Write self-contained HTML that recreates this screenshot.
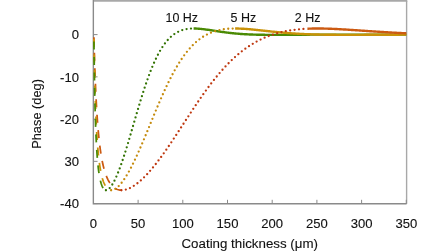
<!DOCTYPE html>
<html><head><meta charset="utf-8"><style>html,body{margin:0;padding:0;background:#fff;width:448px;height:252px;overflow:hidden}svg{display:block}</style></head>
<body><svg width="448" height="252" viewBox="0 0 448 252"><rect width="448" height="252" fill="#fff"/><path d="M93.35,0.95 H407.3" fill="none" stroke="#a8a8a8" stroke-width="1.7"/><path d="M406.6,0.95 V203.8" fill="none" stroke="#a8a8a8" stroke-width="1.4"/><path d="M93.35,-0.050000000000000044 V203.8 H406.6" fill="none" stroke="#8a8a8a" stroke-width="1.4"/><path d="M93.35,34.60 h4.2 M93.35,76.85 h4.2 M93.35,119.10 h4.2 M93.35,161.35 h4.2 M93.35,203.60 h4.2 M138.10,203.8 v-4 M182.80,203.8 v-4 M227.50,203.8 v-4 M272.20,203.8 v-4 M316.90,203.8 v-4 M361.60,203.8 v-4 M406.30,203.8 v-4" fill="none" stroke="#8a8a8a" stroke-width="1"/><path d="M193.61,28.51 L194.41,28.51 L195.21,28.53 L196.01,28.56 L196.81,28.59 L197.61,28.64 L198.41,28.70 L199.21,28.76 L200.01,28.83 L200.81,28.91 L201.61,28.99 L202.41,29.08 L203.20,29.17 L204.00,29.27 L204.79,29.37 L205.59,29.48 L206.38,29.59 L207.18,29.70 L207.98,29.81 L208.77,29.93 L209.57,30.05 L210.36,30.17 L211.15,30.29 L211.94,30.41 L212.73,30.53 L213.52,30.65 L214.31,30.77 L215.10,30.89 L215.90,31.01 L216.69,31.13 L217.48,31.25 L218.27,31.37 L219.07,31.49 L219.86,31.61 L220.66,31.72 L221.45,31.84 L222.25,31.95 L223.04,32.06 L223.84,32.17 L224.63,32.28 L225.43,32.38 L226.23,32.48 L227.02,32.58 L227.82,32.68 L228.61,32.78 L229.41,32.87 L230.20,32.96 L231.00,33.05 L231.80,33.14 L232.59,33.22 L233.39,33.30 L234.19,33.38 L234.99,33.46 L235.79,33.53 L236.59,33.60 L237.39,33.67 L238.19,33.74 L238.99,33.80 L239.79,33.87 L240.59,33.93 L241.39,33.98 L242.19,34.04 L242.99,34.09 L243.79,34.14 L244.59,34.19 L245.39,34.24 L246.19,34.28 L246.99,34.32 L247.79,34.36 L248.59,34.40 L249.39,34.44 L250.19,34.47 L250.99,34.50 L251.79,34.53 L252.59,34.56 L253.39,34.59 L254.19,34.61 L254.99,34.64 L255.80,34.66 L256.60,34.68 L257.40,34.70 L258.20,34.72 L259.00,34.74 L259.80,34.75 L260.60,34.77 L261.40,34.78 L262.20,34.79 L263.00,34.80 L263.80,34.81 L264.60,34.82 L265.40,34.83 L266.20,34.83 L267.00,34.84 L267.80,34.85 L268.60,34.85 L269.40,34.85 L270.20,34.86 L271.00,34.86 L271.80,34.86 L272.60,34.86 L273.40,34.86 L274.20,34.86 L275.00,34.86 L275.80,34.86 L276.60,34.86 L277.40,34.86 L278.20,34.86 L279.00,34.85 L279.80,34.85 L280.60,34.85 L281.40,34.84 L282.20,34.84 L283.00,34.84 L283.80,34.83 L284.60,34.83 L285.40,34.82 L286.20,34.82 L287.00,34.81 L287.80,34.81 L288.60,34.80 L289.40,34.80 L290.20,34.79 L291.00,34.79 L291.80,34.78 L292.60,34.78 L293.40,34.77 L294.20,34.77 L295.00,34.76 L295.80,34.76 L296.60,34.75 L297.40,34.75 L298.20,34.74 L299.00,34.74 L299.80,34.73 L300.60,34.73 L301.40,34.72 L302.20,34.72 L303.00,34.71 L303.80,34.71 L304.60,34.70 L305.40,34.70 L306.20,34.69 L307.00,34.69 L307.80,34.68 L308.60,34.68 L309.40,34.68 L310.20,34.67 L311.00,34.67 L311.80,34.66 L312.60,34.66 L313.40,34.66 L314.20,34.65 L315.00,34.65 L315.80,34.65 L316.60,34.64 L317.41,34.64 L318.21,34.64 L319.01,34.63 L319.81,34.63 L320.61,34.63 L321.41,34.63 L322.21,34.62 L323.01,34.62 L323.81,34.62 L324.61,34.62 L325.41,34.62 L326.21,34.61 L327.01,34.61 L327.81,34.61 L328.61,34.61 L329.41,34.61 L330.21,34.61 L331.01,34.60 L331.81,34.60 L332.61,34.60 L333.41,34.60 L334.21,34.60 L335.01,34.60 L335.81,34.60 L336.61,34.60 L337.41,34.60 L338.21,34.60 L339.01,34.59 L339.81,34.59 L340.61,34.59 L341.41,34.59 L342.21,34.59 L343.01,34.59 L343.81,34.59 L344.61,34.59 L345.41,34.59 L346.21,34.59 L347.01,34.59 L347.81,34.59 L348.61,34.59 L349.41,34.59 L350.21,34.59 L351.01,34.59 L351.81,34.59 L352.61,34.59 L353.41,34.59 L354.21,34.59 L355.01,34.59 L355.81,34.59 L356.61,34.59 L357.41,34.59 L358.21,34.59 L359.01,34.59 L359.81,34.59 L360.61,34.59 L361.41,34.59 L362.21,34.59 L363.01,34.59 L363.81,34.59 L364.61,34.59 L365.41,34.59 L366.21,34.59 L367.01,34.59 L367.81,34.59 L368.61,34.59 L369.41,34.59 L370.21,34.59 L371.01,34.59 L371.81,34.59 L372.61,34.59 L373.41,34.59 L374.21,34.59 L375.01,34.59 L375.81,34.59 L376.61,34.59 L377.41,34.59 L378.21,34.59 L379.02,34.59 L379.82,34.59 L380.62,34.59 L381.42,34.59 L382.22,34.59 L383.02,34.60 L383.82,34.60 L384.62,34.60 L385.42,34.60 L386.22,34.60 L387.02,34.60 L387.82,34.60 L388.62,34.60 L389.42,34.60 L390.22,34.60 L391.02,34.60 L391.82,34.60 L392.62,34.60 L393.42,34.60 L394.22,34.60 L395.02,34.60 L395.82,34.60 L396.62,34.60 L397.42,34.60 L398.22,34.60 L399.02,34.60 L399.82,34.60 L400.62,34.60 L401.42,34.60 L402.22,34.60 L403.02,34.60 L403.82,34.60 L404.62,34.60 L405.42,34.60 L406.22,34.60 L406.30,34.60" fill="none" stroke="#4a8a04" stroke-width="2.4" stroke-linejoin="round"/><path d="M235.10,28.51 L235.90,28.51 L236.70,28.52 L237.50,28.53 L238.30,28.55 L239.10,28.58 L239.90,28.60 L240.70,28.64 L241.50,28.68 L242.30,28.72 L243.10,28.76 L243.90,28.81 L244.70,28.86 L245.50,28.92 L246.30,28.98 L247.10,29.04 L247.90,29.11 L248.70,29.17 L249.50,29.24 L250.30,29.31 L251.10,29.39 L251.90,29.46 L252.70,29.54 L253.50,29.62 L254.30,29.70 L255.10,29.78 L255.90,29.86 L256.70,29.94 L257.50,30.03 L258.29,30.11 L259.09,30.20 L259.89,30.28 L260.68,30.37 L261.48,30.45 L262.27,30.54 L263.07,30.63 L263.86,30.71 L264.66,30.80 L265.45,30.89 L266.25,30.97 L267.05,31.06 L267.84,31.14 L268.64,31.23 L269.43,31.31 L270.23,31.40 L271.02,31.48 L271.82,31.57 L272.62,31.65 L273.42,31.73 L274.22,31.81 L275.03,31.89 L275.83,31.97 L276.63,32.05 L277.43,32.13 L278.23,32.20 L279.03,32.28 L279.83,32.35 L280.63,32.43 L281.43,32.50 L282.23,32.57 L283.03,32.64 L283.83,32.71 L284.63,32.78 L285.43,32.84 L286.23,32.91 L287.03,32.97 L287.83,33.04 L288.63,33.10 L289.43,33.16 L290.23,33.22 L291.03,33.28 L291.83,33.33 L292.63,33.39 L293.43,33.44 L294.23,33.50 L295.03,33.55 L295.83,33.60 L296.63,33.65 L297.43,33.70 L298.23,33.74 L299.03,33.79 L299.83,33.83 L300.63,33.88 L301.43,33.92 L302.23,33.96 L303.03,34.00 L303.83,34.04 L304.63,34.08 L305.43,34.11 L306.23,34.15 L307.03,34.18 L307.83,34.21 L308.63,34.25 L309.43,34.28 L310.23,34.31 L311.03,34.34 L311.83,34.36 L312.63,34.39 L313.43,34.42 L314.23,34.44 L315.03,34.47 L315.83,34.49 L316.63,34.51 L317.43,34.53 L318.23,34.55 L319.03,34.57 L319.83,34.59 L320.63,34.61 L321.43,34.63 L322.23,34.64 L323.03,34.66 L323.83,34.67 L324.63,34.69 L325.43,34.70 L326.23,34.72 L327.03,34.73 L327.83,34.74 L328.63,34.75 L329.43,34.76 L330.23,34.77 L331.03,34.78 L331.83,34.79 L332.63,34.80 L333.43,34.80 L334.23,34.81 L335.03,34.82 L335.83,34.82 L336.64,34.83 L337.44,34.83 L338.24,34.84 L339.04,34.84 L339.84,34.85 L340.64,34.85 L341.44,34.85 L342.24,34.85 L343.04,34.86 L343.84,34.86 L344.64,34.86 L345.44,34.86 L346.24,34.86 L347.04,34.86 L347.84,34.86 L348.64,34.86 L349.44,34.86 L350.24,34.86 L351.04,34.86 L351.84,34.86 L352.64,34.86 L353.44,34.86 L354.24,34.86 L355.04,34.86 L355.84,34.85 L356.64,34.85 L357.44,34.85 L358.24,34.85 L359.04,34.84 L359.84,34.84 L360.64,34.84 L361.44,34.84 L362.24,34.83 L363.04,34.83 L363.84,34.83 L364.64,34.82 L365.44,34.82 L366.24,34.82 L367.04,34.81 L367.84,34.81 L368.64,34.81 L369.44,34.80 L370.24,34.80 L371.04,34.80 L371.84,34.79 L372.64,34.79 L373.44,34.79 L374.24,34.78 L375.04,34.78 L375.84,34.77 L376.64,34.77 L377.44,34.77 L378.24,34.76 L379.04,34.76 L379.84,34.76 L380.64,34.75 L381.44,34.75 L382.24,34.74 L383.04,34.74 L383.84,34.74 L384.64,34.73 L385.44,34.73 L386.24,34.73 L387.04,34.72 L387.84,34.72 L388.64,34.72 L389.44,34.71 L390.24,34.71 L391.04,34.71 L391.84,34.70 L392.64,34.70 L393.44,34.70 L394.24,34.69 L395.04,34.69 L395.84,34.69 L396.64,34.68 L397.44,34.68 L398.25,34.68 L399.05,34.68 L399.85,34.67 L400.65,34.67 L401.45,34.67 L402.25,34.66 L403.05,34.66 L403.85,34.66 L404.65,34.66 L405.45,34.65 L406.25,34.65 L406.30,34.65" fill="none" stroke="#c99208" stroke-width="2.4" stroke-linejoin="round"/><path d="M307.42,28.72 L308.22,28.69 L309.02,28.65 L309.82,28.63 L310.62,28.60 L311.42,28.58 L312.22,28.56 L313.02,28.55 L313.82,28.53 L314.62,28.52 L315.42,28.51 L316.23,28.51 L317.03,28.51 L317.83,28.51 L318.63,28.51 L319.43,28.51 L320.23,28.52 L321.03,28.53 L321.83,28.54 L322.63,28.55 L323.43,28.57 L324.23,28.59 L325.03,28.60 L325.83,28.62 L326.63,28.65 L327.43,28.67 L328.23,28.70 L329.03,28.72 L329.83,28.75 L330.63,28.78 L331.43,28.81 L332.23,28.85 L333.03,28.88 L333.83,28.92 L334.63,28.95 L335.43,28.99 L336.23,29.03 L337.03,29.07 L337.83,29.11 L338.63,29.16 L339.43,29.20 L340.23,29.24 L341.03,29.29 L341.83,29.33 L342.63,29.38 L343.43,29.43 L344.23,29.47 L345.03,29.52 L345.83,29.57 L346.63,29.62 L347.43,29.67 L348.23,29.72 L349.03,29.78 L349.83,29.83 L350.63,29.88 L351.43,29.93 L352.23,29.98 L353.03,30.04 L353.83,30.09 L354.63,30.15 L355.43,30.20 L356.23,30.25 L357.03,30.31 L357.83,30.36 L358.63,30.42 L359.43,30.47 L360.23,30.53 L361.03,30.58 L361.83,30.64 L362.63,30.69 L363.43,30.75 L364.23,30.80 L365.03,30.86 L365.83,30.91 L366.63,30.97 L367.43,31.02 L368.23,31.08 L369.03,31.13 L369.83,31.19 L370.63,31.24 L371.43,31.29 L372.23,31.35 L373.03,31.40 L373.83,31.45 L374.63,31.51 L375.43,31.56 L376.23,31.61 L377.03,31.66 L377.84,31.72 L378.64,31.77 L379.44,31.82 L380.24,31.87 L381.04,31.92 L381.84,31.97 L382.64,32.02 L383.44,32.07 L384.24,32.12 L385.04,32.17 L385.84,32.22 L386.64,32.26 L387.44,32.31 L388.24,32.36 L389.04,32.40 L389.84,32.45 L390.64,32.50 L391.44,32.54 L392.24,32.59 L393.04,32.63 L393.84,32.67 L394.64,32.72 L395.44,32.76 L396.24,32.80 L397.04,32.85 L397.84,32.89 L398.64,32.93 L399.44,32.97 L400.24,33.01 L401.04,33.05 L401.84,33.09 L402.64,33.13 L403.44,33.16 L404.24,33.20 L405.04,33.24 L405.84,33.28 L406.30,33.30" fill="none" stroke="#cc5a12" stroke-width="2.4" stroke-linejoin="round"/><path d="M93.85,34.60 L93.87,35.50 L93.89,36.39 L93.92,37.27 L93.94,38.14 L93.96,39.01 L93.98,39.88 L94.01,40.73 L94.03,41.58 L94.05,42.43 L94.07,43.27 L94.10,44.10 L94.12,44.92 L94.14,45.74 L94.16,46.56 L94.19,47.36 L94.21,48.16 L94.23,49.12 L94.26,50.06 L94.29,51.00 L94.31,51.93 L94.34,52.85 L94.37,53.76 L94.40,54.67 L94.42,55.56 L94.45,56.45 L94.48,57.33 L94.50,58.21 L94.53,59.07 L94.56,59.93 L94.58,60.78 L94.61,61.63 L94.64,62.46 L94.66,63.29 L94.69,64.11 L94.72,64.93 L94.74,65.73 L94.77,66.53 L94.80,67.46 L94.83,68.37 L94.86,69.28 L94.90,70.18 L94.93,71.07 L94.96,71.95 L94.99,72.82 L95.02,73.68 L95.05,74.54 L95.08,75.38 L95.12,76.22 L95.15,77.05 L95.18,77.87 L95.21,78.68 L95.24,79.49 L95.28,80.40 L95.31,81.30 L95.35,82.19 L95.38,83.07 L95.42,83.94 L95.45,84.80 L95.49,85.65 L95.53,86.50 L95.56,87.33 L95.60,88.16 L95.63,88.97 L95.67,89.78 L95.71,90.68 L95.75,91.56 L95.79,92.44 L95.83,93.31 L95.87,94.16 L95.91,95.01 L95.95,95.85 L95.99,96.67 L96.03,97.49 L96.07,98.29 L96.12,99.18 L96.16,100.05 L96.21,100.92 L96.25,101.77 L96.30,102.61 L96.34,103.44 L96.38,104.26 L96.43,105.07 L96.47,105.87 L96.52,106.74 L96.57,107.60 L96.62,108.44 L96.67,109.27 L96.72,110.10 L96.77,110.91 L96.82,111.71 L96.87,112.57 L96.93,113.42 L96.98,114.26 L97.03,115.08 L97.09,115.89 L97.14,116.70 L97.20,117.55 L97.26,118.40 L97.31,119.23 L97.37,120.04 L97.43,120.85 L97.49,121.71 L97.56,122.55 L97.62,123.38 L97.68,124.19 L97.74,124.99 L97.81,125.84 L97.88,126.67 L97.94,127.49 L98.01,128.30 L98.08,129.14 L98.15,129.97 L98.23,130.79 L98.30,131.59 L98.37,132.43 L98.45,133.25 L98.53,134.06 L98.61,134.90 L98.69,135.73 L98.77,136.54 L98.85,137.38 L98.94,138.20 L99.02,139.01 L99.11,139.84 L99.20,140.66 L99.29,141.46 L99.38,142.29 L99.48,143.10 L99.58,143.93 L99.67,144.74 L99.77,145.53 L99.88,146.35 L99.98,147.15 L100.09,147.96 L100.19,148.76 L100.30,149.57 L100.42,150.37 L100.53,151.17 L100.65,151.99 L100.77,152.79 L100.90,153.60 L101.03,154.42 L101.16,155.22 L101.29,156.02 L101.43,156.83 L101.57,157.62 L101.71,158.42 L101.86,159.21 L102.01,160.01 L102.17,160.81 L102.33,161.61 L102.49,162.41 L102.66,163.21 L102.84,164.01 L103.02,164.80 L103.20,165.58 L103.39,166.36 L103.59,167.15 L103.79,167.93 L104.00,168.72 L104.21,169.50 L104.43,170.28 L104.66,171.05 L104.90,171.82 L105.15,172.59 L105.40,173.36 L105.66,174.13 L105.94,174.88 L106.22,175.63 L106.51,176.38 L106.82,177.13 L107.14,177.87 L107.47,178.60 L107.81,179.32 L108.18,180.04 L108.55,180.75 L108.95,181.45 L109.36,182.14 L109.79,182.81 L110.24,183.48 L110.71,184.13 L111.21,184.76 L111.73,185.38 L112.27,185.97 L112.84,186.53 L113.44,187.07 L114.07,187.58 L114.72,188.05 L115.40,188.48 L116.10,188.87 L116.82,189.22 L117.57,189.51 L118.33,189.76 L119.11,189.96 L119.90,190.10 L120.69,190.19 L121.49,190.24 L121.87,190.25" fill="none" stroke="#cc5a12" stroke-width="1.75" stroke-dasharray="8 7.5" stroke-dashoffset="12.8"/><path d="M93.85,34.60 L93.86,35.45 L93.88,36.29 L93.89,37.13 L93.90,37.96 L93.92,38.79 L93.93,39.61 L93.94,40.43 L93.96,41.24 L93.97,42.04 L93.99,43.10 L94.01,44.15 L94.02,45.20 L94.04,46.23 L94.06,47.25 L94.08,48.27 L94.10,49.27 L94.11,50.27 L94.13,51.25 L94.15,52.23 L94.17,53.20 L94.19,54.15 L94.20,55.10 L94.22,56.05 L94.24,56.98 L94.26,57.90 L94.27,58.82 L94.29,59.72 L94.31,60.62 L94.33,61.51 L94.35,62.39 L94.36,63.27 L94.38,64.13 L94.40,64.99 L94.42,65.84 L94.44,66.68 L94.45,67.52 L94.47,68.35 L94.49,69.17 L94.51,69.98 L94.52,70.78 L94.55,71.78 L94.57,72.76 L94.59,73.74 L94.61,74.70 L94.64,75.65 L94.66,76.60 L94.68,77.53 L94.70,78.45 L94.73,79.36 L94.75,80.26 L94.77,81.15 L94.79,82.04 L94.82,82.91 L94.84,83.77 L94.86,84.62 L94.88,85.47 L94.90,86.30 L94.93,87.13 L94.95,87.95 L94.97,88.76 L94.99,89.56 L95.02,90.50 L95.05,91.44 L95.07,92.37 L95.10,93.28 L95.13,94.18 L95.16,95.07 L95.18,95.95 L95.21,96.82 L95.24,97.68 L95.26,98.53 L95.29,99.37 L95.32,100.19 L95.34,101.01 L95.37,101.82 L95.40,102.75 L95.43,103.67 L95.46,104.57 L95.49,105.46 L95.53,106.34 L95.56,107.21 L95.59,108.06 L95.62,108.91 L95.65,109.74 L95.68,110.56 L95.71,111.37 L95.75,112.17 L95.78,113.07 L95.82,113.96 L95.85,114.83 L95.89,115.69 L95.92,116.54 L95.96,117.38 L96.00,118.20 L96.03,119.01 L96.07,119.81 L96.11,120.70 L96.15,121.57 L96.19,122.42 L96.23,123.27 L96.27,124.10 L96.31,124.91 L96.35,125.72 L96.39,126.60 L96.44,127.46 L96.48,128.31 L96.53,129.15 L96.57,129.97 L96.62,130.77 L96.67,131.65 L96.72,132.50 L96.76,133.34 L96.81,134.17 L96.86,134.98 L96.92,135.85 L96.97,136.70 L97.02,137.53 L97.08,138.35 L97.13,139.16 L97.19,140.01 L97.25,140.85 L97.31,141.67 L97.36,142.47 L97.43,143.32 L97.49,144.15 L97.55,144.96 L97.62,145.82 L97.69,146.65 L97.75,147.47 L97.82,148.26 L97.89,149.10 L97.96,149.91 L98.04,150.76 L98.11,151.58 L98.19,152.39 L98.27,153.22 L98.35,154.03 L98.44,154.87 L98.52,155.68 L98.61,156.52 L98.70,157.33 L98.79,158.16 L98.89,158.97 L98.99,159.80 L99.08,160.60 L99.19,161.41 L99.29,162.24 L99.40,163.04 L99.51,163.85 L99.63,164.67 L99.75,165.49 L99.87,166.28 L100.00,167.08 L100.13,167.88 L100.26,168.68 L100.40,169.47 L100.54,170.27 L100.69,171.06 L100.85,171.86 L101.01,172.66 L101.17,173.44 L101.35,174.23 L101.53,175.03 L101.72,175.81 L101.91,176.60 L102.12,177.37 L102.33,178.15 L102.56,178.93 L102.80,179.69 L103.05,180.46 L103.31,181.22 L103.59,181.98 L103.89,182.73 L104.21,183.47 L104.55,184.21 L104.91,184.93 L105.30,185.63 L105.72,186.32 L106.18,186.99 L106.67,187.62 L107.21,188.22 L107.79,188.76 L108.43,189.25 L109.12,189.66 L109.86,189.97 L110.64,190.16 L111.43,190.24 L111.57,190.25" fill="none" stroke="#c99208" stroke-width="1.75" stroke-dasharray="8 7.5" stroke-dashoffset="11"/><path d="M93.85,34.60 L93.86,35.40 L93.87,36.59 L93.89,37.77 L93.90,38.94 L93.91,40.10 L93.93,41.25 L93.94,42.38 L93.95,43.50 L93.97,44.62 L93.98,45.72 L93.99,46.81 L94.01,47.89 L94.02,48.96 L94.03,50.01 L94.05,51.06 L94.06,52.10 L94.07,53.13 L94.09,54.14 L94.10,55.15 L94.11,56.15 L94.13,57.14 L94.14,58.11 L94.15,59.08 L94.17,60.04 L94.18,60.99 L94.19,61.93 L94.21,62.86 L94.22,63.78 L94.23,64.70 L94.25,65.60 L94.26,66.50 L94.27,67.38 L94.29,68.26 L94.30,69.13 L94.31,69.99 L94.33,70.85 L94.34,71.69 L94.36,72.53 L94.37,73.36 L94.38,74.18 L94.40,75.00 L94.41,75.80 L94.43,76.86 L94.44,77.91 L94.46,78.95 L94.48,79.98 L94.50,80.99 L94.52,81.99 L94.53,82.97 L94.55,83.95 L94.57,84.91 L94.59,85.86 L94.61,86.80 L94.62,87.73 L94.64,88.65 L94.66,89.55 L94.68,90.45 L94.69,91.33 L94.71,92.20 L94.73,93.07 L94.75,93.92 L94.77,94.77 L94.78,95.60 L94.80,96.42 L94.82,97.24 L94.84,98.04 L94.86,99.03 L94.88,100.01 L94.90,100.98 L94.93,101.93 L94.95,102.87 L94.97,103.79 L94.99,104.70 L95.02,105.60 L95.04,106.49 L95.06,107.36 L95.08,108.22 L95.11,109.07 L95.13,109.91 L95.15,110.74 L95.17,111.55 L95.20,112.36 L95.22,113.31 L95.25,114.25 L95.28,115.17 L95.30,116.08 L95.33,116.97 L95.36,117.85 L95.38,118.72 L95.41,119.57 L95.44,120.41 L95.46,121.23 L95.49,122.05 L95.52,122.85 L95.55,123.77 L95.58,124.67 L95.61,125.56 L95.64,126.43 L95.67,127.29 L95.71,128.13 L95.74,128.96 L95.77,129.78 L95.80,130.58 L95.83,131.48 L95.87,132.36 L95.91,133.23 L95.94,134.08 L95.98,134.92 L96.01,135.74 L96.05,136.54 L96.09,137.43 L96.13,138.30 L96.17,139.15 L96.21,139.99 L96.25,140.81 L96.29,141.62 L96.34,142.49 L96.38,143.35 L96.42,144.18 L96.47,145.01 L96.51,145.81 L96.56,146.67 L96.61,147.52 L96.66,148.35 L96.71,149.15 L96.76,150.02 L96.82,150.86 L96.87,151.68 L96.93,152.48 L96.98,153.33 L97.04,154.15 L97.10,154.96 L97.16,155.81 L97.22,156.63 L97.29,157.43 L97.35,158.27 L97.42,159.08 L97.49,159.93 L97.56,160.75 L97.64,161.55 L97.71,162.37 L97.79,163.17 L97.87,163.99 L97.95,164.83 L98.04,165.64 L98.13,166.47 L98.22,167.27 L98.31,168.08 L98.41,168.90 L98.51,169.73 L98.62,170.52 L98.72,171.32 L98.83,172.13 L98.95,172.93 L99.07,173.72 L99.20,174.52 L99.33,175.33 L99.47,176.13 L99.61,176.92 L99.76,177.72 L99.92,178.52 L100.09,179.32 L100.27,180.11 L100.46,180.90 L100.66,181.68 L100.88,182.47 L101.10,183.24 L101.35,184.01 L101.61,184.77 L101.90,185.53 L102.22,186.27 L102.57,186.99 L102.96,187.70 L103.40,188.37 L103.91,188.99 L104.49,189.54 L105.17,189.97 L105.94,190.21 L106.38,190.25" fill="none" stroke="#4a8a04" stroke-width="1.75" stroke-dasharray="8 7.5" stroke-dashoffset="8.7"/><path d="M105.93,190.25 L106.72,190.14 L107.47,189.85 L108.16,189.44 L108.79,188.95 L109.38,188.41 L109.93,187.82 L110.45,187.21 L110.94,186.58 L111.41,185.93 L111.86,185.26 L112.29,184.58 L112.71,183.89 L113.12,183.19 L113.52,182.49 L113.90,181.78 L114.27,181.07 L114.63,180.35 L114.99,179.63 L115.34,178.90 L115.68,178.17 L116.01,177.44 L116.34,176.70 L116.67,175.97 L116.98,175.23 L117.30,174.49 L117.61,173.75 L117.91,173.01 L118.21,172.27 L118.51,171.51 L118.80,170.76 L119.09,170.01 L119.38,169.26 L119.67,168.50 L119.95,167.74 L120.22,166.99 L120.50,166.23 L120.77,165.47 L121.05,164.70 L121.32,163.95 L121.58,163.18 L121.85,162.42 L122.11,161.65 L122.37,160.89 L122.63,160.13 L122.88,159.37 L123.14,158.60 L123.39,157.83 L123.64,157.07 L123.89,156.31 L124.14,155.54 L124.39,154.77 L124.64,154.01 L124.88,153.24 L125.13,152.46 L125.37,151.70 L125.61,150.93 L125.85,150.16 L126.09,149.38 L126.33,148.62 L126.57,147.85 L126.80,147.08 L127.04,146.30 L127.28,145.53 L127.52,144.75 L127.75,143.98 L127.98,143.21 L128.21,142.43 L128.44,141.66 L128.68,140.88 L128.91,140.10 L129.14,139.32 L129.37,138.55 L129.60,137.78 L129.83,137.01 L130.05,136.24 L130.28,135.46 L130.51,134.69 L130.74,133.91 L130.97,133.13 L131.19,132.35 L131.42,131.57 L131.65,130.79 L131.88,130.01 L132.11,129.23 L132.33,128.44 L132.56,127.67 L132.78,126.91 L133.00,126.14 L133.23,125.37 L133.45,124.60 L133.67,123.83 L133.90,123.06 L134.12,122.29 L134.35,121.52 L134.57,120.75 L134.80,119.97 L135.02,119.19 L135.25,118.41 L135.48,117.62 L135.71,116.84 L135.94,116.06 L136.16,115.28 L136.39,114.51 L136.62,113.73 L136.85,112.95 L137.08,112.18 L137.30,111.41 L137.53,110.64 L137.76,109.87 L137.99,109.10 L138.22,108.32 L138.45,107.54 L138.69,106.76 L138.92,105.98 L139.15,105.21 L139.38,104.44 L139.62,103.67 L139.85,102.90 L140.08,102.12 L140.32,101.35 L140.56,100.57 L140.80,99.80 L141.03,99.03 L141.27,98.27 L141.51,97.49 L141.75,96.72 L141.99,95.95 L142.23,95.18 L142.48,94.42 L142.72,93.64 L142.97,92.87 L143.21,92.11 L143.46,91.34 L143.71,90.57 L143.96,89.80 L144.21,89.04 L144.46,88.28 L144.72,87.51 L144.97,86.74 L145.23,85.98 L145.48,85.21 L145.74,84.45 L146.00,83.69 L146.27,82.92 L146.53,82.16 L146.79,81.40 L147.06,80.64 L147.33,79.88 L147.60,79.11 L147.88,78.35 L148.15,77.60 L148.43,76.84 L148.70,76.08 L148.98,75.32 L149.27,74.57 L149.55,73.81 L149.84,73.06 L150.13,72.30 L150.42,71.55 L150.71,70.80 L151.01,70.05 L151.31,69.30 L151.61,68.56 L151.91,67.82 L152.22,67.07 L152.53,66.33 L152.84,65.59 L153.16,64.84 L153.48,64.11 L153.80,63.37 L154.12,62.63 L154.46,61.90 L154.79,61.16 L155.13,60.43 L155.47,59.70 L155.81,58.98 L156.16,58.25 L156.51,57.53 L156.87,56.81 L157.23,56.09 L157.60,55.37 L157.97,54.66 L158.34,53.95 L158.72,53.24 L159.11,52.53 L159.51,51.83 L159.90,51.13 L160.31,50.44 L160.72,49.74 L161.13,49.06 L161.56,48.37 L161.99,47.69 L162.43,47.01 L162.87,46.34 L163.32,45.68 L163.78,45.02 L164.25,44.37 L164.72,43.72 L165.20,43.08 L165.69,42.44 L166.19,41.82 L166.70,41.20 L167.22,40.59 L167.75,39.98 L168.29,39.39 L168.84,38.80 L169.41,38.23 L169.98,37.66 L170.56,37.11 L171.16,36.57 L171.76,36.05 L172.38,35.53 L173.01,35.03 L173.65,34.55 L174.30,34.08 L174.96,33.63 L175.63,33.19 L176.32,32.78 L177.02,32.38 L177.72,32.00 L178.44,31.64 L179.17,31.30 L179.90,30.98 L180.65,30.68 L181.40,30.40 L182.16,30.14 L182.93,29.90 L183.70,29.69 L184.48,29.49 L185.26,29.31 L186.05,29.16 L186.84,29.02 L187.63,28.90 L188.42,28.79 L189.22,28.71 L190.02,28.64 L190.82,28.59 L191.62,28.55 L192.42,28.52 L193.22,28.51 L193.61,28.51" fill="none" stroke="#347404" stroke-width="2.3" stroke-linecap="round" stroke-dasharray="0 4.445"/><path d="M111.12,190.25 L111.92,190.19 L112.71,190.03 L113.47,189.79 L114.21,189.47 L114.92,189.10 L115.60,188.68 L116.26,188.22 L116.89,187.73 L117.51,187.22 L118.10,186.68 L118.68,186.12 L119.24,185.54 L119.79,184.95 L120.32,184.35 L120.84,183.74 L121.35,183.12 L121.84,182.49 L122.33,181.86 L122.81,181.21 L123.28,180.56 L123.74,179.91 L124.19,179.24 L124.64,178.58 L125.08,177.90 L125.52,177.23 L125.95,176.55 L126.37,175.86 L126.79,175.18 L127.20,174.49 L127.60,173.80 L128.01,173.10 L128.40,172.41 L128.80,171.71 L129.19,171.01 L129.58,170.30 L129.96,169.59 L130.34,168.88 L130.72,168.17 L131.09,167.46 L131.46,166.74 L131.83,166.03 L132.20,165.31 L132.56,164.59 L132.91,163.87 L133.27,163.15 L133.63,162.43 L133.98,161.70 L134.33,160.98 L134.68,160.25 L135.02,159.53 L135.36,158.80 L135.71,158.07 L136.05,157.34 L136.39,156.61 L136.72,155.88 L137.06,155.14 L137.39,154.41 L137.72,153.68 L138.06,152.94 L138.39,152.20 L138.71,151.47 L139.04,150.74 L139.37,150.00 L139.69,149.25 L140.01,148.52 L140.34,147.78 L140.66,147.04 L140.98,146.30 L141.30,145.56 L141.61,144.82 L141.93,144.08 L142.25,143.34 L142.57,142.59 L142.88,141.85 L143.19,141.11 L143.50,140.37 L143.82,139.63 L144.13,138.88 L144.44,138.14 L144.76,137.39 L145.06,136.65 L145.37,135.91 L145.68,135.17 L145.99,134.43 L146.30,133.68 L146.61,132.94 L146.91,132.19 L147.22,131.44 L147.53,130.70 L147.84,129.95 L148.15,129.20 L148.46,128.45 L148.77,127.70 L149.07,126.95 L149.38,126.20 L149.69,125.45 L150.00,124.70 L150.31,123.95 L150.62,123.20 L150.92,122.45 L151.23,121.70 L151.54,120.95 L151.85,120.20 L152.16,119.45 L152.47,118.70 L152.78,117.95 L153.08,117.21 L153.39,116.46 L153.70,115.71 L154.01,114.97 L154.32,114.23 L154.63,113.48 L154.93,112.74 L155.24,112.00 L155.55,111.26 L155.86,110.51 L156.18,109.77 L156.49,109.02 L156.80,108.28 L157.12,107.54 L157.43,106.80 L157.74,106.06 L158.05,105.32 L158.37,104.58 L158.69,103.83 L159.01,103.09 L159.32,102.35 L159.64,101.62 L159.96,100.87 L160.28,100.13 L160.61,99.39 L160.93,98.66 L161.25,97.92 L161.58,97.18 L161.90,96.44 L162.23,95.71 L162.56,94.97 L162.89,94.24 L163.22,93.50 L163.55,92.77 L163.88,92.04 L164.21,91.30 L164.55,90.57 L164.88,89.84 L165.22,89.11 L165.56,88.38 L165.90,87.65 L166.25,86.92 L166.59,86.19 L166.94,85.47 L167.28,84.74 L167.63,84.01 L167.99,83.29 L168.34,82.56 L168.69,81.84 L169.05,81.12 L169.41,80.40 L169.77,79.68 L170.13,78.96 L170.50,78.24 L170.87,77.52 L171.24,76.80 L171.61,76.09 L171.98,75.37 L172.36,74.66 L172.74,73.95 L173.12,73.24 L173.50,72.53 L173.89,71.83 L174.28,71.12 L174.67,70.41 L175.06,69.71 L175.46,69.01 L175.86,68.32 L176.26,67.62 L176.67,66.93 L177.08,66.23 L177.49,65.54 L177.91,64.85 L178.33,64.17 L178.75,63.48 L179.17,62.80 L179.60,62.12 L180.04,61.44 L180.48,60.77 L180.92,60.09 L181.37,59.42 L181.81,58.75 L182.26,58.09 L182.72,57.43 L183.18,56.78 L183.64,56.12 L184.11,55.47 L184.59,54.83 L185.07,54.19 L185.55,53.55 L186.04,52.91 L186.54,52.27 L187.04,51.64 L187.54,51.02 L188.05,50.40 L188.57,49.79 L189.09,49.17 L189.62,48.57 L190.15,47.97 L190.69,47.37 L191.23,46.78 L191.78,46.20 L192.34,45.62 L192.91,45.04 L193.47,44.48 L194.05,43.92 L194.63,43.37 L195.22,42.82 L195.82,42.28 L196.42,41.75 L197.03,41.23 L197.64,40.72 L198.27,40.21 L198.90,39.71 L199.53,39.22 L200.17,38.74 L200.82,38.27 L201.48,37.81 L202.15,37.36 L202.82,36.92 L203.50,36.49 L204.18,36.07 L204.87,35.66 L205.57,35.26 L206.27,34.88 L206.98,34.50 L207.69,34.14 L208.41,33.79 L209.14,33.44 L209.87,33.12 L210.61,32.80 L211.35,32.50 L212.10,32.20 L212.85,31.93 L213.61,31.66 L214.37,31.40 L215.13,31.16 L215.90,30.93 L216.67,30.71 L217.45,30.50 L218.22,30.31 L219.01,30.12 L219.79,29.95 L220.58,29.79 L221.36,29.64 L222.15,29.50 L222.95,29.37 L223.74,29.25 L224.53,29.14 L225.33,29.04 L226.12,28.95 L226.92,28.87 L227.72,28.80 L228.52,28.74 L229.32,28.68 L230.12,28.63 L230.92,28.60 L231.72,28.56 L232.52,28.54 L233.32,28.52 L234.12,28.51 L234.92,28.51 L235.10,28.51" fill="none" stroke="#c48a0c" stroke-width="2.3" stroke-linecap="round" stroke-dasharray="0 4.445"/><path d="M121.42,190.25 L122.22,190.22 L123.02,190.16 L123.81,190.05 L124.61,189.90 L125.39,189.73 L126.16,189.51 L126.93,189.27 L127.68,189.00 L128.43,188.71 L129.16,188.39 L129.89,188.06 L130.61,187.70 L131.32,187.32 L132.03,186.93 L132.72,186.52 L133.40,186.10 L134.08,185.66 L134.74,185.22 L135.40,184.76 L136.05,184.29 L136.70,183.81 L137.34,183.32 L137.97,182.82 L138.59,182.31 L139.21,181.80 L139.82,181.28 L140.42,180.75 L141.02,180.22 L141.62,179.68 L142.21,179.13 L142.79,178.58 L143.37,178.03 L143.94,177.47 L144.51,176.90 L145.07,176.33 L145.63,175.76 L146.19,175.18 L146.74,174.59 L147.29,174.01 L147.84,173.41 L148.38,172.82 L148.91,172.22 L149.44,171.62 L149.98,171.02 L150.50,170.41 L151.03,169.80 L151.55,169.19 L152.06,168.58 L152.58,167.96 L153.09,167.34 L153.60,166.72 L154.11,166.09 L154.61,165.47 L155.11,164.84 L155.61,164.21 L156.11,163.58 L156.61,162.94 L157.10,162.31 L157.59,161.67 L158.08,161.03 L158.56,160.39 L159.05,159.74 L159.53,159.10 L160.01,158.46 L160.49,157.81 L160.96,157.16 L161.44,156.51 L161.91,155.86 L162.38,155.21 L162.85,154.56 L163.32,153.91 L163.78,153.25 L164.25,152.60 L164.71,151.94 L165.17,151.29 L165.64,150.63 L166.10,149.97 L166.56,149.31 L167.01,148.65 L167.47,147.99 L167.92,147.33 L168.38,146.66 L168.83,146.00 L169.28,145.34 L169.73,144.67 L170.19,144.00 L170.64,143.33 L171.08,142.67 L171.53,142.00 L171.98,141.34 L172.43,140.67 L172.87,140.00 L173.32,139.32 L173.76,138.66 L174.20,137.99 L174.65,137.32 L175.09,136.65 L175.53,135.98 L175.97,135.30 L176.42,134.63 L176.86,133.96 L177.30,133.28 L177.74,132.61 L178.18,131.94 L178.62,131.27 L179.05,130.60 L179.49,129.93 L179.93,129.25 L180.37,128.58 L180.81,127.91 L181.24,127.23 L181.68,126.56 L182.12,125.89 L182.56,125.21 L183.00,124.54 L183.43,123.86 L183.87,123.19 L184.31,122.52 L184.75,121.84 L185.19,121.17 L185.63,120.49 L186.06,119.82 L186.50,119.15 L186.94,118.48 L187.38,117.80 L187.82,117.13 L188.25,116.46 L188.69,115.79 L189.13,115.12 L189.58,114.44 L190.02,113.77 L190.46,113.09 L190.90,112.42 L191.35,111.75 L191.79,111.08 L192.23,110.41 L192.67,109.74 L193.12,109.08 L193.56,108.40 L194.01,107.73 L194.46,107.06 L194.90,106.40 L195.35,105.73 L195.80,105.07 L196.25,104.40 L196.70,103.73 L197.15,103.06 L197.60,102.40 L198.06,101.73 L198.51,101.07 L198.96,100.41 L199.42,99.74 L199.88,99.08 L200.33,98.42 L200.79,97.76 L201.25,97.10 L201.71,96.44 L202.17,95.79 L202.64,95.13 L203.10,94.47 L203.57,93.81 L204.03,93.16 L204.50,92.50 L204.97,91.85 L205.44,91.20 L205.91,90.55 L206.39,89.89 L206.86,89.25 L207.34,88.60 L207.81,87.95 L208.29,87.31 L208.77,86.67 L209.25,86.02 L209.74,85.38 L210.22,84.74 L210.71,84.10 L211.20,83.46 L211.69,82.82 L212.18,82.19 L212.67,81.55 L213.17,80.92 L213.67,80.29 L214.17,79.66 L214.67,79.03 L215.17,78.40 L215.68,77.77 L216.18,77.15 L216.69,76.53 L217.20,75.91 L217.72,75.29 L218.23,74.68 L218.75,74.06 L219.27,73.45 L219.79,72.84 L220.31,72.23 L220.84,71.62 L221.37,71.02 L221.90,70.41 L222.43,69.81 L222.97,69.21 L223.50,68.62 L224.04,68.03 L224.59,67.43 L225.14,66.84 L225.69,66.26 L226.23,65.67 L226.79,65.09 L227.34,64.51 L227.90,63.94 L228.47,63.36 L229.03,62.79 L229.60,62.22 L230.17,61.66 L230.74,61.09 L231.32,60.53 L231.90,59.98 L232.48,59.42 L233.07,58.87 L233.66,58.32 L234.25,57.78 L234.84,57.24 L235.44,56.70 L236.04,56.17 L236.64,55.64 L237.25,55.11 L237.86,54.59 L238.47,54.08 L239.09,53.56 L239.71,53.05 L240.33,52.54 L240.95,52.04 L241.58,51.54 L242.22,51.04 L242.85,50.56 L243.49,50.07 L244.14,49.59 L244.78,49.11 L245.43,48.64 L246.08,48.17 L246.74,47.71 L247.40,47.25 L248.06,46.80 L248.72,46.35 L249.39,45.91 L250.06,45.47 L250.74,45.04 L251.42,44.61 L252.10,44.19 L252.79,43.77 L253.48,43.36 L254.17,42.95 L254.87,42.55 L255.56,42.16 L256.26,41.77 L256.97,41.38 L257.68,41.00 L258.39,40.63 L259.10,40.26 L259.82,39.90 L260.54,39.55 L261.26,39.20 L261.99,38.86 L262.71,38.52 L263.45,38.19 L264.18,37.86 L264.92,37.54 L265.66,37.23 L266.40,36.92 L267.14,36.62 L267.89,36.33 L268.64,36.04 L269.39,35.76 L270.14,35.48 L270.90,35.21 L271.66,34.94 L272.42,34.69 L273.18,34.44 L273.94,34.19 L274.71,33.95 L275.48,33.72 L276.25,33.49 L277.02,33.27 L277.79,33.05 L278.57,32.84 L279.34,32.64 L280.12,32.44 L280.90,32.25 L281.68,32.06 L282.46,31.88 L283.25,31.71 L284.03,31.54 L284.81,31.37 L285.60,31.21 L286.39,31.06 L287.17,30.91 L287.97,30.77 L288.76,30.63 L289.55,30.50 L290.34,30.37 L291.13,30.25 L291.93,30.13 L292.72,30.02 L293.52,29.91 L294.31,29.81 L295.11,29.71 L295.90,29.62 L296.70,29.53 L297.50,29.44 L298.30,29.36 L299.10,29.29 L299.90,29.21 L300.70,29.14 L301.50,29.08 L302.30,29.02 L303.10,28.96 L303.90,28.91 L304.70,28.86 L305.50,28.81 L306.30,28.77 L307.10,28.73 L307.42,28.72" fill="none" stroke="#bf3810" stroke-width="2.3" stroke-linecap="round" stroke-dasharray="0 4.445"/><g font-family="Liberation Sans, Arial, sans-serif" fill="#111" stroke="#111" stroke-width="0.1"><text transform="translate(79,39.30) scale(1.09,1)" font-size="12" text-anchor="end">0</text><text transform="translate(79,81.55) scale(1.09,1)" font-size="12" text-anchor="end">-10</text><text transform="translate(79,123.80) scale(1.09,1)" font-size="12" text-anchor="end">-20</text><text transform="translate(79,166.05) scale(1.09,1)" font-size="12" text-anchor="end">30</text><text transform="translate(79,208.30) scale(1.09,1)" font-size="12" text-anchor="end">-40</text><text transform="translate(93.40,228) scale(1.09,1)" font-size="12" text-anchor="middle">0</text><text transform="translate(138.10,228) scale(1.09,1)" font-size="12" text-anchor="middle">50</text><text transform="translate(182.80,228) scale(1.09,1)" font-size="12" text-anchor="middle">100</text><text transform="translate(227.50,228) scale(1.09,1)" font-size="12" text-anchor="middle">150</text><text transform="translate(272.20,228) scale(1.09,1)" font-size="12" text-anchor="middle">200</text><text transform="translate(316.90,228) scale(1.09,1)" font-size="12" text-anchor="middle">250</text><text transform="translate(361.60,228) scale(1.09,1)" font-size="12" text-anchor="middle">300</text><text transform="translate(406.30,228) scale(1.09,1)" font-size="12" text-anchor="middle">350</text><text transform="translate(165.5,22.2) scale(1.04,1)" font-size="12" text-anchor="start">10 Hz</text><text transform="translate(230.5,22.2) scale(1.04,1)" font-size="12" text-anchor="start">5 Hz</text><text transform="translate(294.8,22.2) scale(1.04,1)" font-size="12" text-anchor="start">2 Hz</text><text x="181.5" y="247.5" font-size="12.5" text-anchor="start" textLength="136.5" lengthAdjust="spacingAndGlyphs">Coating thickness (μm)</text><text transform="translate(40.8,148.8) rotate(-90)" font-size="12.5" textLength="69.8" lengthAdjust="spacingAndGlyphs">Phase (deg)</text></g></svg></body></html>
